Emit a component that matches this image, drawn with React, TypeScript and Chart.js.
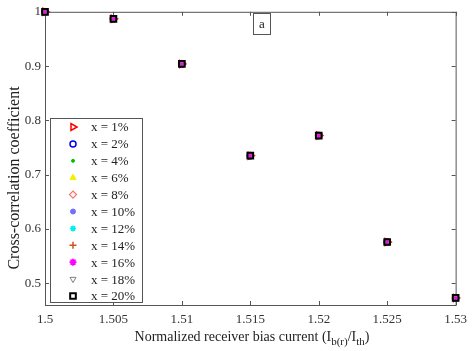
import React, { useEffect, useRef } from 'react';
import { Chart, registerables } from 'chart.js';
import { drawPoint } from 'chart.js/helpers';

Chart.register(...registerables);

const xValues = [1.5, 1.505, 1.51, 1.515, 1.52, 1.525, 1.53];
const coefficients = [1.0, 0.987, 0.904, 0.735, 0.772, 0.576, 0.473];
const seriesLabels = ['x = 1%', 'x = 2%', 'x = 4%', 'x = 6%', 'x = 8%', 'x = 10%', 'x = 12%', 'x = 14%', 'x = 16%', 'x = 18%', 'x = 20%'];
const xTicks = [1.5, 1.505, 1.51, 1.515, 1.52, 1.525, 1.53];
const yTicks = [0.5, 0.6, 0.7, 0.8, 0.9, 1];

const markerStyles = [
  { pointStyle: 'triangle', rotation: 90, color: '#ff0000', fill: 'rgba(255,255,255,0)', radius: 4, bw: 1.5 },
  { pointStyle: 'circle', rotation: 0, color: '#0000ee', fill: 'rgba(255,255,255,0)', radius: 3, bw: 1.5 },
  { pointStyle: 'circle', rotation: 0, color: '#00c000', fill: '#00c000', radius: 1.5, bw: 1 },
  { pointStyle: 'triangle', rotation: 0, color: '#f5f000', fill: '#f5f000', radius: 3.5, bw: 1 },
  { pointStyle: 'rectRot', rotation: 0, color: '#ff6a6a', fill: 'rgba(255,255,255,0)', radius: 3.5, bw: 1.2 },
  { pointStyle: 'circle', rotation: 0, color: '#7070ff', fill: '#7070ff', radius: 2.5, bw: 1 },
  { pointStyle: 'star', rotation: 0, color: '#00f0f0', fill: '#00f0f0', radius: 3, bw: 1.5 },
  { pointStyle: 'cross', rotation: 0, color: '#d05020', fill: '#d05020', radius: 3.5, bw: 1.5 },
  { pointStyle: 'star', rotation: 0, color: '#ff00ff', fill: '#ff00ff', radius: 3.5, bw: 1.8 },
  { pointStyle: 'triangle', rotation: 180, color: '#808080', fill: 'rgba(255,255,255,0)', radius: 3.5, bw: 1 },
  { pointStyle: 'rect', rotation: 0, color: '#000000', fill: 'rgba(255,255,255,0)', radius: 4, bw: 2 },
];

const FONT = '"Liberation Serif", "Times New Roman", serif';

const framePlugin = {
  id: 'frameTicks',
  beforeDatasetsDraw(chart: any) {
    const { ctx, chartArea: a, scales } = chart;
    ctx.save();
    ctx.strokeStyle = '#555';
    ctx.lineWidth = 1;
    ctx.strokeRect(a.left + 0.5, a.top + 0.5, a.right - a.left, a.bottom - a.top);
    const L = 4;
    ctx.beginPath();
    for (const v of xTicks) {
      const x = Math.round(scales.x.getPixelForValue(v)) + 0.5;
      ctx.moveTo(x, a.bottom); ctx.lineTo(x, a.bottom - L);
      ctx.moveTo(x, a.top); ctx.lineTo(x, a.top + L);
    }
    for (const v of yTicks) {
      const y = Math.round(scales.y.getPixelForValue(v)) + 0.5;
      ctx.moveTo(a.left, y); ctx.lineTo(a.left + L, y);
      ctx.moveTo(a.right, y); ctx.lineTo(a.right - L, y);
    }
    ctx.stroke();

    // legend box
    const lx = 50, ly = 118, lw = 92, lh = 184;
    ctx.fillStyle = '#fff';
    ctx.fillRect(lx, ly, lw, lh);
    ctx.strokeStyle = '#555';
    ctx.strokeRect(lx + 0.5, ly + 0.5, lw, lh);
    ctx.font = '13px ' + FONT;
    ctx.textBaseline = 'middle';
    ctx.textAlign = 'left';
    seriesLabels.forEach((label, i) => {
      const y = ly + 9 + i * 16.9;
      const m = markerStyles[i];
      ctx.save();
      ctx.strokeStyle = m.color;
      ctx.fillStyle = m.fill;
      ctx.lineWidth = m.bw;
      drawPoint(ctx, { pointStyle: m.pointStyle, rotation: m.rotation, radius: m.radius, borderWidth: m.bw } as any, 73, y);
      ctx.restore();
      ctx.fillStyle = '#222';
      ctx.fillText(label, 91, y + 1);
    });

    // annotation "a"
    ctx.strokeStyle = '#555';
    ctx.strokeRect(253.5, 13.5, 17, 21);
    ctx.fillStyle = '#222';
    ctx.textAlign = 'center';
    ctx.fillText('a', 262, 25);

    // y title
    ctx.save();
    ctx.translate(15, 178);
    ctx.rotate(-Math.PI / 2);
    ctx.textAlign = 'center';
    ctx.textBaseline = 'middle';
    ctx.font = '16px ' + FONT;
    ctx.fillText('Cross-correlation coefficient', 0, 0);
    ctx.restore();

    // x title with subscripts
    const parts: [string, boolean][] = [
      ['Normalized receiver bias current (I', false],
      ['b(r)', true],
      ['/I', false],
      ['th', true],
      [')', false],
    ];
    const big = '14px ' + FONT, small = '11px ' + FONT;
    let total = 0;
    for (const [t, sub] of parts) { ctx.font = sub ? small : big; total += ctx.measureText(t).width; }
    let x = 252 - total / 2;
    const base = 341;
    ctx.textAlign = 'left';
    ctx.textBaseline = 'alphabetic';
    for (const [t, sub] of parts) {
      ctx.font = sub ? small : big;
      ctx.fillText(t, x, sub ? base + 4 : base);
      x += ctx.measureText(t).width;
    }
    ctx.restore();
  },
};

export default function App() {
  const ref = useRef<HTMLCanvasElement>(null);
  useEffect(() => {
    if (!ref.current) return;
    const datasets = seriesLabels.map((label, i) => {
      const m = markerStyles[i];
      return {
        label,
        data: xValues.map((x, j) => ({ x, y: coefficients[j] })),
        showLine: false,
        pointStyle: m.pointStyle,
        rotation: m.rotation,
        pointRadius: m.radius,
        pointBorderWidth: m.bw,
        borderColor: m.color,
        backgroundColor: m.fill,
        pointBorderColor: m.color,
        pointBackgroundColor: m.fill,
        order: seriesLabels.length - i,
        clip: false as any,
      };
    });
    const chart = new Chart(ref.current, {
      type: 'scatter',
      data: { datasets: datasets as any },
      plugins: [framePlugin],
      options: {
        animation: false,
        responsive: false,
        devicePixelRatio: 1,
        layout: { padding: { left: 0, top: 7, right: 15, bottom: 0 } },
        plugins: { legend: { display: false }, tooltip: { enabled: false } },
        scales: {
          x: {
            type: 'linear',
            min: 1.5,
            max: 1.53,
            grid: { display: false, drawTicks: false },
            border: { display: false },
            afterBuildTicks: (s: any) => { s.ticks = xTicks.map((v) => ({ value: v })); },
            afterFit: (s: any) => { s.height = 46; },
            ticks: {
              padding: 7,
              color: '#333',
              font: { family: FONT, size: 13 },
              callback: (v: any) => String(Math.round(Number(v) * 1000) / 1000),
              maxRotation: 0,
              autoSkip: false,
            },
          },
          y: {
            type: 'linear',
            min: 0.46,
            max: 1,
            grid: { display: false, drawTicks: false },
            border: { display: false },
            afterBuildTicks: (s: any) => { s.ticks = yTicks.map((v) => ({ value: v })); },
            afterFit: (s: any) => { s.width = 45; },
            ticks: {
              padding: 4,
              color: '#333',
              font: { family: FONT, size: 13 },
              callback: (v: any) => String(Math.round(Number(v) * 10) / 10),
              autoSkip: false,
            },
          },
        },
      },
    });
    return () => chart.destroy();
  }, []);
  return (
    <div style={{ position: 'fixed', left: 0, top: 0, width: 474, height: 351, background: '#fff' }}>
      <canvas ref={ref} width={474} height={351} style={{ display: 'block', width: 474, height: 351 }} />
    </div>
  );
}
